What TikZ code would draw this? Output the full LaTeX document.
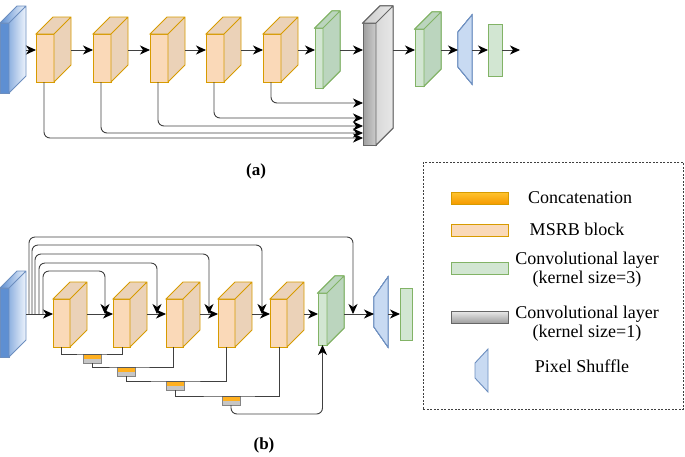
\documentclass[tikz,border=0pt]{standalone}
\usepackage{fontspec}
\setmainfont{Liberation Serif}
\usetikzlibrary{arrows.meta}
\definecolor{msrbfront}{HTML}{FAD9B8}
\definecolor{msrbside}{HTML}{EBD2B8}
\definecolor{msrbline}{HTML}{D79B00}
\definecolor{convfront}{HTML}{D2E6D2}
\definecolor{convside}{HTML}{BBD5BE}
\definecolor{convline}{HTML}{82B366}
\definecolor{inblue}{HTML}{5E8FD2}
\definecolor{inlight}{HTML}{EEF4FC}
\definecolor{inline}{HTML}{6C8EBF}
\definecolor{psfill}{HTML}{C8DAF2}
\definecolor{grayline}{HTML}{666666}
\definecolor{catorange}{HTML}{FFB020}
\definecolor{catlight}{HTML}{FFC430}
\definecolor{catdark}{HTML}{F59A00}
\definecolor{catgray}{HTML}{C6C6C6}
\tikzset{
	msrb/.style={draw=msrbline, fill=msrbfront},
	msrbback/.style={draw=msrbline, fill=msrbside},
	conv/.style={draw=convline, fill=convfront},
	convback/.style={draw=convline, fill=convside},
	inp/.style={draw=inline, fill=inblue},
	inpback/.style={draw=inline, left color=inblue, right color=inlight},
	onebyone/.style={draw=grayline, left color=black!38, right color=black!20},
	onebyoneback/.style={draw=grayline, left color=black!20, right color=black!9},
	ps/.style={draw=inline, fill=psfill},
	link/.style={draw=black!75, line width=0.9pt},
	cat/.style={draw=grayline!80, fill=catgray, minimum width=18pt, minimum height=9pt, inner sep=0pt, outer sep=0pt,
		path picture={\fill[catorange] (path picture bounding box.north west) rectangle (path picture bounding box.east);}},
	keybox/.style={minimum width=57pt, minimum height=12pt, inner sep=0pt},
	flatbox/.style={conv, anchor=north west, inner sep=0pt, outer sep=0pt},
	lab/.style={font=\fontsize{17}{19}\selectfont\bfseries},
}
\newcommand{\blockcube}[6]{%
	\node[#6, anchor=north west, minimum width=#4pt, minimum height=#5pt, inner sep=0pt, outer sep=0pt] (#1) at (#2,#3) {};
	\path[#6back] (#1.north west) -- ++(17,-17) -- ++(#4,0) -- ++(0,#5) -- (#1.south east) -- (#1.north east) -- cycle
		(#1.north east) -- ++(17,-17);
}
\newcommand{\pshuf}[6]{%
	\node[anchor=north west, minimum width=#4pt, minimum height=#5pt, inner sep=0pt, outer sep=0pt] (#1) at (#2,#3) {};
	\draw[ps] (#1.north east) -- (#1.south east) -- ([yshift=#6pt]#1.south west) -- ([yshift=-#6pt]#1.north west) -- cycle;
}
\begin{document}
\begin{tikzpicture}[x=1pt, y=-1pt, >={Stealth[length=10pt,width=9pt,inset=3pt,color=black]}, line width=0.9pt, font=\fontsize{18}{19}\selectfont]
	\useasboundingbox (0,0) rectangle (685,456);
	\coordinate (rowa) at (0,50);
	\coordinate (rowb) at (0,314);

	\blockcube{ina}{0}{23}{9}{70}{inp}
	\foreach \i/\x in {1/36,2/93,3/150,4/206,5/263}
		\blockcube{a\i}{\x}{34}{18}{48}{msrb}
	\blockcube{ga}{315}{28}{8}{60}{conv}
	\blockcube{ka}{363}{23}{13}{122}{onebyone}
	\blockcube{ha}{415}{29}{9}{57}{conv}
	\pshuf{pa}{458}{15}{14}{69}{17}
	\node[flatbox, minimum width=14pt, minimum height=52pt] (ra) at (488,24) {};
	\coordinate (outa) at (520,50);

	\draw[link, ->] ([xshift=17pt]ina.east |- rowa) -- (a1.west |- rowa);
	\foreach \i [count=\j from 2] in {1,...,4}
		\draw[link, ->] ([xshift=17pt]a\i.east |- rowa) -- (a\j.west |- rowa);
	\draw[link, ->] ([xshift=17pt]a5.east |- rowa) -- (ga.west |- rowa);
	\draw[link, ->] ([xshift=17pt]ga.east |- rowa) -- (ka.west |- rowa);
	\draw[link, ->] ([xshift=17pt]ka.east |- rowa) -- (ha.west |- rowa);
	\draw[link, ->] ([xshift=17pt]ha.east |- rowa) -- (pa.west |- rowa);
	\draw[link, ->] (pa.east |- rowa) -- (ra.west |- rowa);
	\draw[link, ->] (ra.east |- rowa) -- (outa);
	\foreach \i/\l in {1/138,2/133,3/126,4/118,5/103}
		\draw[link, ->, rounded corners=6pt] ([xshift=8pt]a\i.south west) |- (ka.west |- 0,\l);
	\node[lab] (laba) at (256,171) {(a)};

	\blockcube{inb}{0}{288}{9}{69}{inp}
	\foreach \i/\x in {1/53,2/113,3/166,4/218,5/270}
		\blockcube{b\i}{\x}{299}{17}{48}{msrb}
	\blockcube{gb}{318}{293}{9}{52}{conv}
	\pshuf{pb}{374}{277}{14}{70}{20}
	\node[flatbox, minimum width=12pt, minimum height=52pt] (rb) at (400,288) {};

	\draw[link, ->] ([xshift=17pt]inb.east |- rowb) -- (b1.west |- rowb);
	\foreach \i [count=\j from 2] in {1,...,4}
		\draw[link, ->] ([xshift=17pt]b\i.east |- rowb) -- (b\j.west |- rowb);
	\draw[link, ->] ([xshift=17pt]b5.east |- rowb) -- (gb.west |- rowb);
	\draw[link, ->] ([xshift=17pt]gb.east |- rowb) -- (pb.west |- rowb);
	\draw[link, ->] (pb.east |- rowb) -- (rb.west |- rowb);
	\foreach \o/\l/\t/\d in {34/271/b2/8, 30/263/b3/9, 26/254/b4/9, 23/245/b5/8, 20/237/pb/21}
		\draw[link, ->, rounded corners=6pt] ([xshift=\o pt]inb.east |- rowb) |- ([xshift=-\d pt]\t.west |- 0,\l) -- ([xshift=-\d pt]\t.west |- rowb);

	\node[cat] (c1) at (92,358.5) {};
	\node[cat] (c2) at (126,371.5) {};
	\node[cat] (c3) at (175,385.5) {};
	\node[cat] (c4) at (231,400.5) {};
	\draw[link] ([xshift=8pt]b1.south west) |- (c1.north) -| ([xshift=9pt]b2.south west);
	\draw[link] (c1.south) |- (c2.north) -| ([xshift=7pt]b3.south west);
	\draw[link] (c2.south) |- (c3.north) -| ([xshift=8pt]b4.south west);
	\draw[link] (c3.south) |- (c4.north) -| ([xshift=9pt]b5.south west);
	\draw[link, ->, rounded corners=6pt] (c4.south) -- ++(0,9) -| (gb.south);
	\node[lab] (labb) at (264,445) {(b)};

	\node[draw=black!75, dash pattern=on 2pt off 1.5pt, line width=0.8pt, anchor=north west, minimum width=260pt, minimum height=247pt, inner sep=0pt] (key) at (423,162) {};
	\node[keybox, draw=msrbline, top color=catlight, bottom color=catdark] (k1) at (479.5,198) {};
	\node (t1) at (580,198) {Concatenation};
	\node[keybox, msrb] (k2) at (479.5,230.5) {};
	\node (t2) at (577,229) {MSRB block};
	\node[keybox, conv] (k3) at (479.5,268.5) {};
	\node[align=center] (t3) at (587,269.5) {Convolutional layer\\(kernel size=3)};
	\node[keybox, draw=grayline, top color=black!8, bottom color=black!38] (k4) at (479.5,317) {};
	\node[align=center] (t4) at (587,323.5) {Convolutional layer\\(kernel size=1)};
	\pshuf{k5}{475}{349}{13}{43}{14}
	\node (t5) at (582,366) {Pixel Shuffle};
\end{tikzpicture}
\end{document}
